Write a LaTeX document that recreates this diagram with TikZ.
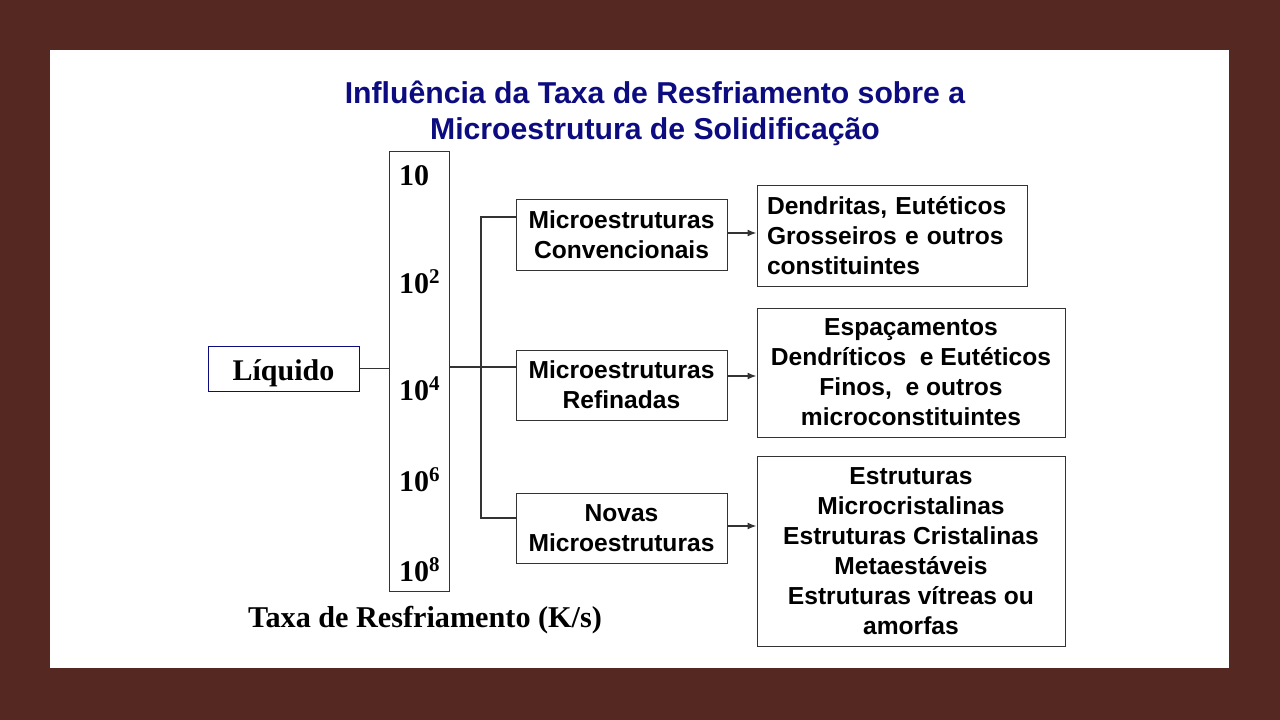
\documentclass[tikz,border=0pt]{standalone}
\usepackage{fontspec}
\setmainfont{Liberation Serif}
\newfontfamily\arialf{Liberation Sans}
\usetikzlibrary{arrows.meta}
\definecolor{bgbrown}{HTML}{562822}
\definecolor{titleblue}{HTML}{0C0C80}
\definecolor{boxgray}{HTML}{333333}
\tikzset{
  sbox/.style={draw=boxgray, line width=1pt, fill=white, inner sep=0pt, align=center,
    font=\arialf\bfseries\fontsize{24.6}{30}\selectfont},
  conn/.style={draw=boxgray, line width=1.4pt},
  arr/.style={conn, -{Latex[length=9pt,width=7pt]}},
  num/.style={inner sep=0pt, anchor=base west, font=\bfseries\fontsize{30}{30}\selectfont}
}
\begin{document}
\begin{tikzpicture}[x=1pt,y=-1pt]
\useasboundingbox (0,0) rectangle (1280,720);
\fill[bgbrown] (0,0) rectangle (1280,720);
\fill[white] (50,50) rectangle (1229,668);

\node[titleblue, align=center, font=\arialf\bfseries\fontsize{30.2}{36}\selectfont, anchor=north] (title) at (655,77)
  {Influência da Taxa de Resfriamento sobre a\\Microestrutura de Solidificação};

\node[draw=titleblue, line width=1pt, minimum width=151, minimum height=45, inner sep=0pt,
  text height=23pt, text depth=0pt,
  font=\bfseries\fontsize{30}{30}\selectfont] (liq) at (283.5,368.5) {Líquido};

\node[draw=boxgray, line width=1pt, minimum width=60, minimum height=440, inner sep=0pt] (scale) at (419,371) {};
\node[num] (n1) at (399,185) {10};
\node[num] (n2) at (399,293) {10\textsuperscript{2}};
\node[num] (n4) at (399,400) {10\textsuperscript{4}};
\node[num] (n6) at (399,491) {10\textsuperscript{6}};
\node[num] (n8) at (399,581) {10\textsuperscript{8}};

\node[inner sep=0pt, anchor=base west, font=\bfseries\fontsize{30.2}{30}\selectfont] (taxa) at (248,627) {Taxa de Resfriamento (K/s)};

\node[sbox, minimum width=211, minimum height=71] (m1) at (621.5,234.5) {Microestruturas\\Convencionais};
\node[sbox, minimum width=211, minimum height=70] (m2) at (621.5,385) {Microestruturas\\Refinadas};
\node[sbox, minimum width=211, minimum height=70] (m3) at (621.5,528) {Novas\\Microestruturas};

\node[sbox, align=left, text width=250, inner xsep=10pt, minimum height=101] (r1) at (892,235.5)
  {Dendritas, Eutéticos\\Grosseiros e outros\\constituintes};
\node[sbox, minimum width=308, minimum height=129] (r2) at (911,372.5)
  {Espaçamentos\\Dendríticos\ \ e Eutéticos\\Finos,\ \ e outros\\microconstituintes};
\node[sbox, minimum width=308, minimum height=190] (r3) at (911,551)
  {Estruturas\\Microcristalinas\\Estruturas Cristalinas\\Metaestáveis\\Estruturas vítreas ou\\amorfas};

\coordinate (j1) at (481,217);
\coordinate (j2) at (481,367);
\coordinate (j3) at (481,518);

\draw[conn] (liq.east) -- (liq.east -| scale.west);
\draw[conn] (j2 -| scale.east) -- (j2 -| m2.west);
\draw[conn] (m1.west |- j1) -- (j1) -- (j3) -- (m3.west |- j3);

\draw[arr] ([yshift=1.5pt]m1.east) -- ([yshift=1.5pt]m1.east -| r1.west);
\draw[arr] ([yshift=9pt]m2.east) -- ([yshift=9pt]m2.east -| r2.west);
\draw[arr] ([yshift=2pt]m3.east) -- ([yshift=2pt]m3.east -| r3.west);
\end{tikzpicture}
\end{document}
